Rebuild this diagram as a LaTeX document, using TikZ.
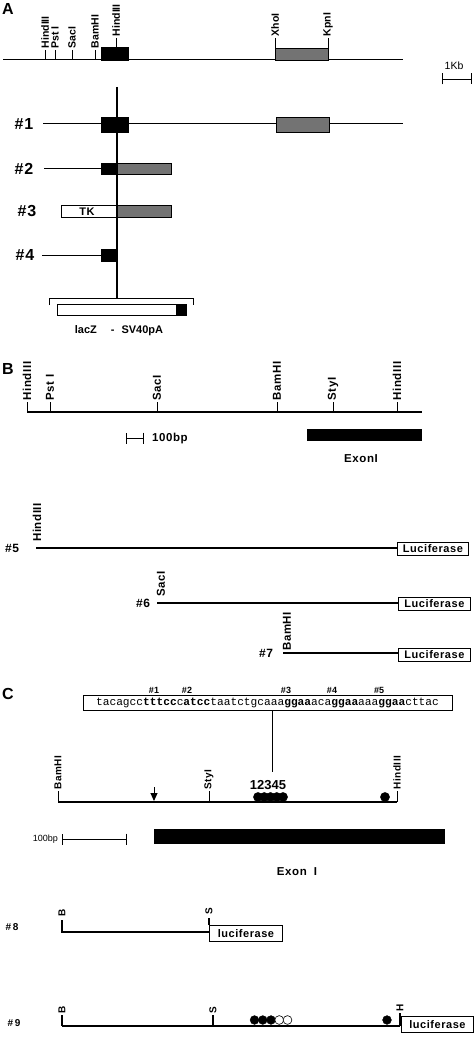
\documentclass[tikz,border=0pt]{standalone}
\usepackage{fontspec}
\setmainfont{Liberation Sans}
\newfontfamily\lab[LetterSpace=5]{Liberation Sans}
\newfontfamily\seqf{Liberation Mono}
\usetikzlibrary{arrows.meta}
\tikzset{
  rlab/.style={rotate=90, anchor=west, inner sep=1.5pt, font=\bfseries\fontsize{10.5}{10.5}\selectfont},
  rlabb/.style={rotate=90, anchor=west, inner sep=1.5pt, font=\lab\bfseries\fontsize{11.5}{11.5}\selectfont},
  rlabc/.style={rotate=90, anchor=west, inner sep=1.5pt, font=\lab\bfseries\fontsize{10}{10}\selectfont},
  rlabs/.style={rotate=90, anchor=west, inner sep=1pt, font=\bfseries\fontsize{10}{10}\selectfont},
  panel/.style={anchor=base west, inner sep=0pt, font=\bfseries\fontsize{16}{16}\selectfont},
  numA/.style={inner sep=0pt, font=\lab\bfseries\fontsize{16}{16}\selectfont},
  numB/.style={inner sep=0pt, font=\lab\bfseries\fontsize{12}{12}\selectfont},
  blk/.style={fill=black, draw=black},
  gry/.style={fill=black!55, draw=black},
  wht/.style={fill=white, draw=black},
  lucbox/.style={draw, line width=0.9pt, anchor=west, minimum height=13pt, inner sep=1pt, font=\lab\bfseries\fontsize{11}{11}\selectfont},
  lucsmall/.style={draw, line width=0.9pt, anchor=north west, minimum height=16pt, inner sep=1pt, font=\lab\bfseries\fontsize{11}{11}\selectfont},
  txt/.style={inner sep=0pt, font=\lab\bfseries\fontsize{11}{11}\selectfont},
  scalebar/.style={{Bar[width=11pt]}-{Bar[width=11pt]}, line width=0.7pt},
  dotf/.style={fill=black, draw=black},
  doto/.style={fill=white, draw=black, line width=0.6pt}
}
\begin{document}
\begin{tikzpicture}[x=1pt,y=-1pt]
\useasboundingbox[fill=white] (0,0) rectangle (474,1051);

% ================= A =================
\node[panel] (pA) at (2,15) {A};
\draw[line width=1pt] (3,60) coordinate (a0) -- (403,60) coordinate (a1);
\foreach \x/\t/\n in {45/HindIII/h1, 55/Pst I/p1, 72/SacI/s1, 95/BamHI/b1}{
  \draw[line width=0.8pt] (\x,50) coordinate (\n) -- (\x,60);
  \node[rlab] at (\n) {\t};
}
\draw[blk] (101,47) rectangle (128,60);
\draw[line width=0.8pt] (116,38) coordinate (h2) -- (116,47);
\node[rlab] at (h2) {HindIII};
\draw[gry] (275,48) rectangle (328,60);
\draw[line width=0.8pt] (275,38) coordinate (xh) -- (275,48);
\draw[line width=0.8pt] (328,38) coordinate (kp) -- (328,48);
\node[rlab] at (xh) {XhoI};
\node[rlab] at (kp) {KpnI};
\node[inner sep=0pt, font=\fontsize{10.5}{10.5}\selectfont] (kb) at (454,66) {1Kb};
\draw[scalebar] (442,79) coordinate (kb0) -- (472,79) coordinate (kb1);

% constructs
\node[numA] (n1) at (24,124) {\#1};
\draw[line width=1pt] (43,124) -- (403,124);
\draw[blk] (101,117) rectangle (128,132);
\draw[gry] (276,117) rectangle (329,132);

\node[numA] (n2) at (24,169) {\#2};
\draw[line width=1pt] (44,169) -- (101,169);
\draw[blk] (101,163) rectangle (117,174);
\draw[gry] (117,163) rectangle (171,174);

\node[numA] (n3) at (27,211) {\#3};
\draw[wht, line width=0.8pt] (61,205) rectangle (117,217);
\node[txt] (tk) at (87,211.5) {TK};
\draw[gry] (117,205) rectangle (171,217);

\node[numA] (n4) at (25,255) {\#4};
\draw[line width=1pt] (42,255) -- (101,255);
\draw[blk] (101,249) rectangle (117,261);

\draw[line width=1.2pt] (117,87) coordinate (vtop) -- (117,298) coordinate (vbot);
\draw[line width=0.9pt] (49,305) -- (49,298) -- (193,298) -- (193,305);
\draw[wht, line width=0.9pt] (57,304) rectangle (186,315);
\draw[blk] (176,304) rectangle (186,315);
\node[txt, font=\bfseries\fontsize{11}{11}\selectfont] (lacz) at (119,331) {lacZ\hspace{14pt}-\hspace{7pt}SV40pA};

% ================= B =================
\node[panel] (pB) at (2,374) {B};
\draw[line width=2.5pt] (27,412) coordinate (b0) -- (422,412) coordinate (b1);
\foreach \x/\t/\n in {27/HindIII/bh1, 50/Pst I/bp, 157/SacI/bs, 277/BamHI/bb, 333/StyI/bst, 397/HindIII/bh2}{
  \draw[line width=1pt] (\x,402) coordinate (\n) -- (\x,412);
  \node[rlabb] at (\n) {\t};
}
\draw[scalebar] (126,438) coordinate (sb0) -- (144,438) coordinate (sb1);
\node[txt, anchor=west, font=\lab\bfseries\fontsize{11.5}{11.5}\selectfont] (bp) at (152,438.5) {100bp};
\fill (307,429) rectangle (422,441);
\node[txt, font=\lab\bfseries\fontsize{11.5}{11.5}\selectfont] (exB) at (361,459) {ExonI};

\node[numB] (n5) at (12,548) {\#5};
\draw[line width=2pt] (36,548) coordinate (l5) -- (397,548);
\node[rlabb, inner sep=1pt] at (37,543) {HindIII};
\node[lucbox, minimum width=71pt] (luc5) at (397,548.5) {Luciferase};

\node[numB] (n6) at (143,603) {\#6};
\draw[line width=2pt] (157,603) coordinate (l6) -- (398,603);
\node[rlabb, inner sep=1pt] at (161,598) {SacI};
\node[lucbox, minimum width=72pt] (luc6) at (398,603.5) {Luciferase};

\node[numB] (n7) at (266,653) {\#7};
\draw[line width=2pt] (283,653) coordinate (l7) -- (398,653);
\node[rlabb, inner sep=1pt] at (287,652) {BamHI};
\node[lucbox, minimum width=72pt] (luc7) at (398,654.5) {Luciferase};

% ================= C =================
\node[panel] (pC) at (2,699) {C};
\draw[line width=0.9pt] (83,695) rectangle (452,710);
\node[inner sep=0pt, font=\seqf\fontsize{11.2}{11.2}\selectfont] (seq) at (267.5,702.5)
  {tacagcc\textbf{tttcc}c\textbf{atcc}taatctgcaaa\textbf{ggaa}aca\textbf{ggaa}aaa\textbf{ggaa}cttac};
\foreach \x/\t in {154/1,187/2,286/3,332/4,379/5}{
  \node[inner sep=0pt, font=\bfseries\fontsize{9}{9}\selectfont] at (\x,690) {\#\t};
}
\draw[line width=0.8pt] (272,710) coordinate (sq) -- (272,772) coordinate (sq2);

\draw[line width=2pt] (58,802) coordinate (c0) -- (397,802) coordinate (c1);
\foreach \x/\t/\n in {58/BamHI/cb, 209/StyI/cs, 397/HindIII/ch}{
  \draw[line width=1pt] (\x,791) coordinate (\n) -- (\x,802);
  \node[rlabc] at (\n) {\t};
}
\draw[line width=1pt, -{Triangle[length=8pt,width=7pt]}] (154,787) coordinate (ar0) -- (154,801) coordinate (ar1);
\foreach \x in {258,264.25,270.5,276.75,283}{ \draw[dotf] (\x,797) circle (4.6); }
\node[inner sep=0pt, font=\bfseries\fontsize{13}{13}\selectfont] (nums) at (268,785) {12345};
\draw[dotf] (385,797) circle (4.6);

\draw[scalebar, line width=0.6pt] (62,839) coordinate (cs0) -- (127,839) coordinate (cs1);
\node[inner sep=0pt, anchor=east, font=\fontsize{9}{9}\selectfont] (bpc) at (58,839) {100bp};
\fill (154,829) rectangle (445,844);
\node[txt, font=\lab\bfseries\fontsize{11.5}{11.5}\selectfont] (exC) at (297,872) {Exon\hspace{7pt}I};

% #8
\node[inner sep=0pt, font=\bfseries\fontsize{10}{10}\selectfont] (n8) at (12,927) {\#\,8};
\draw[line width=1.5pt] (62,920) coordinate (b8) -- (62,932) -- (209,932);
\draw[line width=1.5pt] (209,918) coordinate (s8) -- (209,925);
\node[rlabs] at (62,918) {B};
\node[rlabs] at (209,916) {S};
\node[lucsmall, minimum width=73pt] (luc8) at (209,925) {luciferase};

% #9
\node[inner sep=0pt, font=\bfseries\fontsize{10}{10}\selectfont] (n9) at (14,1023) {\#\,9};
\draw[line width=2pt] (62,1026) coordinate (c9) -- (400,1026);
\draw[line width=1.2pt] (62,1015) coordinate (b9) -- (62,1026);
\draw[line width=1.2pt] (213,1015) coordinate (s9) -- (213,1026);
\draw[line width=1.2pt] (400,1013) coordinate (h9) -- (400,1026);
\node[rlabs] at (b9) {B};
\node[rlabs] at (s9) {S};
\node[rlabs] at (h9) {H};
\foreach \x in {254.5,262.75,271}{ \draw[dotf] (\x,1020) circle (4.4); }
\foreach \x in {279.25,287.5}{ \draw[doto] (\x,1020) circle (4.4); }
\draw[dotf] (387,1020) circle (4.4);
\node[lucsmall, minimum width=72pt] (luc9) at (401,1016) {luciferase};
\end{tikzpicture}
\end{document}
